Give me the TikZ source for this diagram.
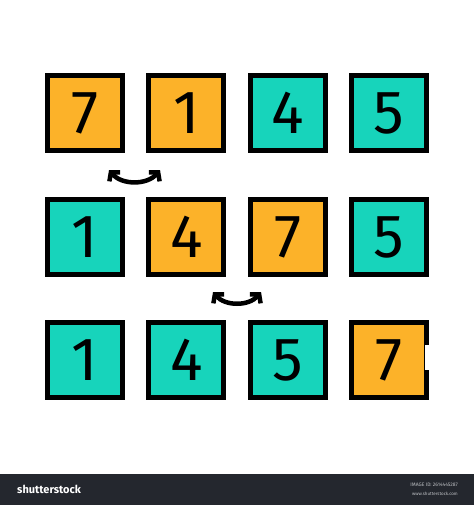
\documentclass[tikz,border=0pt]{standalone}
\usepackage{fontspec}
\setmainfont{Fira Sans}
\usetikzlibrary{arrows.meta}
\definecolor{naranja}{RGB}{252,178,41}
\definecolor{turquesa}{RGB}{23,212,187}
\definecolor{barra}{RGB}{36,39,46}
\definecolor{grisclaro}{RGB}{190,192,196}
\tikzset{
  casilla/.style={draw=black, line width=5pt, minimum size=75pt, inner sep=0pt,
    font=\fontsize{61}{61}\selectfont},
  intercambio/.style={line width=4.5pt,
    {Straight Barb[length=6pt,width=14pt]}-{Straight Barb[length=6pt,width=14pt]}},
}
\begin{document}
\begin{tikzpicture}[x=1pt, y=-1pt]
  % Marco de la imagen
  \useasboundingbox (0,0) rectangle (474,505);
  \fill[white] (0,0) rectangle (474,505);

  % Fila 1: 7 1 4 5
  \foreach \d/\c [count=\i] in {7/naranja, 1/naranja, 4/turquesa, 5/turquesa} {
    \node[casilla, fill=\c] (a\i) at ({85+101.3*(\i-1)}, 113) {\d};
  }
  % Fila 2: 1 4 7 5
  \foreach \d/\c [count=\i] in {1/turquesa, 4/naranja, 7/naranja, 5/turquesa} {
    \node[casilla, fill=\c] (b\i) at ({85+101.3*(\i-1)}, 237) {\d};
  }
  % Fila 3: 1 4 5 7
  \foreach \d/\c [count=\i] in {1/turquesa, 4/turquesa, 5/turquesa, 7/naranja} {
    \node[casilla, fill=\c] (c\i) at ({85+101.3*(\i-1)}, 360) {\d};
  }

  % Hueco en el borde derecho de la ultima casilla
  \fill[white] (c4.east |- 0,345) ++(-4,0) rectangle ++(5,25);

  % Flechas de intercambio
  \coordinate (s1i) at (109,170);
  \coordinate (s1d) at (160,170);
  \coordinate (s2i) at (213,292);
  \coordinate (s2d) at (261,292);
  \draw[intercambio] (s1i) to[bend right=50] (s1d);
  \draw[intercambio] (s2i) to[bend right=50] (s2d);

  % Barra inferior
  \fill[barra] (0,474) rectangle (474,505);
  \node[anchor=west, text=white, font=\bfseries\fontsize{11}{11}\selectfont, inner sep=0pt]
    (marca) at (17,489) {shutterstock};
  \node[anchor=east, text=grisclaro, font=\fontsize{5}{5}\selectfont, inner sep=0pt]
    (idimg) at (458,485) {IMAGE ID: 2614445287};
  \node[anchor=east, text=grisclaro, font=\fontsize{4.5}{4.5}\selectfont, inner sep=0pt]
    (web) at (458,494) {www.shutterstock.com};
\end{tikzpicture}
\end{document}
